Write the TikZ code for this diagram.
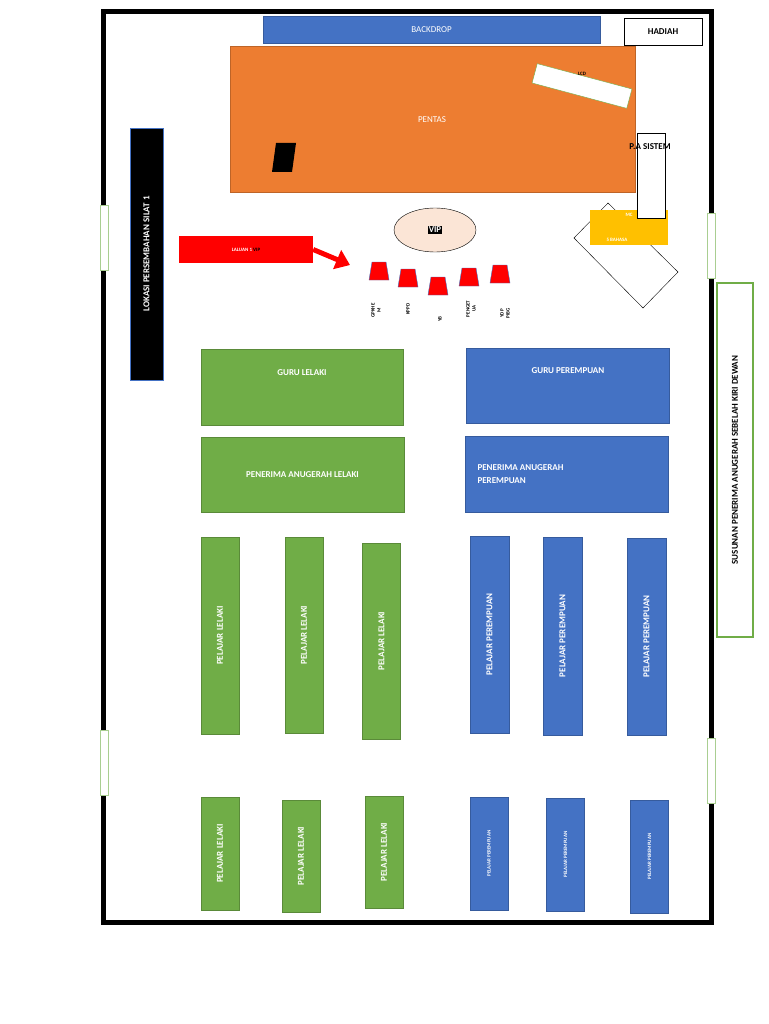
\documentclass[tikz,border=0pt]{standalone}
\usepackage{fontspec}
\setmainfont{Carlito}
\usetikzlibrary{shapes.geometric,arrows.meta}
\definecolor{hijau}{HTML}{70AD47}
\definecolor{biru}{HTML}{4472C4}
\definecolor{oren}{HTML}{ED7D31}
\definecolor{kuning}{HTML}{FFC000}
\definecolor{pic}{HTML}{FBE5D6}
\tikzset{
  blok/.style={draw=#1!80!black, fill=#1, text=white, font=\bfseries\small, inner sep=0pt},
  kerusi/.style={fill=red, draw=biru},
  label kerusi/.style={rotate=90, font=\bfseries\tiny, align=center, anchor=east},
  pintu/.style={draw=hijau!60, fill=white, line width=0.8pt}
}
\begin{document}
\begin{tikzpicture}[x=1pt,y=-1pt]
\useasboundingbox (0,0) rectangle (768,1024);
% dinding dewan
\draw[line width=5pt] (103,12) rectangle (711,922);
\draw[pintu] (100,205) rectangle (108,270);
\draw[pintu] (100,730) rectangle (108,795);
\draw[pintu] (707,213) rectangle (715,278);
\draw[pintu] (707,738) rectangle (715,803);

% pentas
\node[blok=biru, minimum width=337pt, minimum height=27pt, font=\small] (backdrop) at (431.5,29.5) {BACKDROP};
\node[draw, fill=white, minimum width=78pt, minimum height=27pt, font=\bfseries\small] (hadiah) at (663,31.5) {HADIAH};
\node[blok=oren, minimum width=405pt, minimum height=146pt] (pentas) at (432.5,119) {};
\node[text=white, font=\small] (tpentas) at (432,120) {PENTAS};
\node[draw=hijau, fill=white, rotate=-15, minimum width=98pt, minimum height=20pt, inner sep=0pt] (lcd) at (582,86) {};
\node[font=\bfseries\tiny] (tlcd) at (582,74) {LCD};
\fill (276,143) -- (296,143) -- (292,172) -- (272,172) -- cycle;

% sistem PA dan MC
\draw (574,238) -- (608,203) -- (678,272) -- (643,308) -- cycle;
\node[fill=kuning, minimum width=78pt, minimum height=35pt, inner sep=0pt] (mc) at (629,227.5) {};
\node[text=white, font=\bfseries\tiny] (tmc) at (629,215) {MC};
\node[text=white, font=\bfseries\tiny] (tbahasa) at (617,240) {5 BAHASA};
\node[draw, fill=white, minimum width=28pt, minimum height=85pt, inner sep=0pt] (pa) at (651,175.5) {};
\node[font=\bfseries\small] (tpa) at (650,147) {P.A SISTEM};

% VIP
\node[ellipse, draw, fill=pic, minimum width=82pt, minimum height=44pt] (vip) at (435,230) {};
\node[fill=black, text=white, font=\bfseries\small, inner sep=1pt] (tvip) at (435,230) {VIP};
\node[fill=red, minimum width=134pt, minimum height=27pt, inner sep=0pt, font=\bfseries\tiny, text=white] (laluan) at (246,249.5) {LALUAN 1 \textcolor{black}{VIP}};
\coordinate (hujung) at (350,265);
\draw[red, line width=5pt, -{Triangle[length=14pt,width=20pt]}] (laluan.east) -- (hujung);

% kerusi VIP
\foreach \x/\y [count=\i] in {379/271, 408/278, 438/286, 469/277, 500/274}{
  \coordinate (k\i) at (\x,\y);
  \draw[kerusi] ([shift={(-7,-9)}]k\i) -- ([shift={(7,-9)}]k\i) -- ([shift={(10,9)}]k\i) -- ([shift={(-10,9)}]k\i) -- cycle;
}
\node[label kerusi] at (376,300) {GPKHE\\M};
\node[label kerusi] at (408,300) {KPPD};
\node[label kerusi] at (440,313) {YB};
\node[label kerusi] at (471,297) {PENGET\\UA};
\node[label kerusi] at (505,305) {YDP\\PIBG};

% papan tanda
\node[draw=biru, fill=black, text=white, minimum width=33pt, minimum height=252pt, inner sep=0pt] (lokasi) at (146.5,254) {};
\node[rotate=90, text=white, font=\bfseries\small] (tlokasi) at (146.5,254) {LOKASI PERSEMBAHAN SILAT 1};
\node[draw=hijau, line width=1.5pt, fill=white, minimum width=36pt, minimum height=354pt, inner sep=0pt] (susunan) at (735,460) {};
\node[rotate=90, font=\bfseries\small] (tsusunan) at (735,460) {SUSUNAN PENERIMA ANUGERAH SEBELAH KIRI DEWAN};

% guru dan penerima
\node[blok=hijau, minimum width=202pt, minimum height=76pt] (gurul) at (302,387) {};
\node[text=white, font=\bfseries\small] at (302,373) {GURU LELAKI};
\node[blok=hijau, minimum width=203pt, minimum height=75pt] (penl) at (302.5,474.5) {PENERIMA ANUGERAH LELAKI};
\node[blok=biru, minimum width=203pt, minimum height=75pt] (gurup) at (567.5,385.5) {};
\node[text=white, font=\bfseries\small] at (568,371) {GURU PEREMPUAN};
\node[blok=biru, minimum width=203pt, minimum height=76pt] (penp) at (566.5,474) {};
\node[text=white, font=\bfseries\small, align=left, anchor=west] at (474,474) {PENERIMA ANUGERAH\\[2pt]PEREMPUAN};

% pelajar
\foreach \x/\ya/\yb [count=\i] in {220/537/734, 304/537/733, 381.5/543/739}
  \node[blok=hijau, minimum width=\yb-\ya, minimum height=38pt, rotate=90] (pl\i) at (\x,{(\ya+\yb)/2}) {PELAJAR LELAKI};
\foreach \x/\ya/\yb [count=\i] in {220/797/910, 301/800/912, 384/796/908}
  \node[blok=hijau, minimum width=\yb-\ya, minimum height=38pt, rotate=90] (sl\i) at (\x,{(\ya+\yb)/2}) {PELAJAR LELAKI};
\foreach \x/\ya/\yb [count=\i] in {489.5/536/733, 562.5/537/735, 646.5/538/735}
  \node[blok=biru, minimum width=\yb-\ya, minimum height=39pt, rotate=90] (pp\i) at (\x,{(\ya+\yb)/2}) {PELAJAR PEREMPUAN};
\foreach \x/\ya/\yb [count=\i] in {489/797/910, 565.5/798/911, 649.5/800/913}
  \node[blok=biru, minimum width=\yb-\ya, minimum height=38pt, rotate=90, font=\bfseries\tiny] (sp\i) at (\x,{(\ya+\yb)/2}) {PELAJAR PEREMPUAN};
\end{tikzpicture}
\end{document}
